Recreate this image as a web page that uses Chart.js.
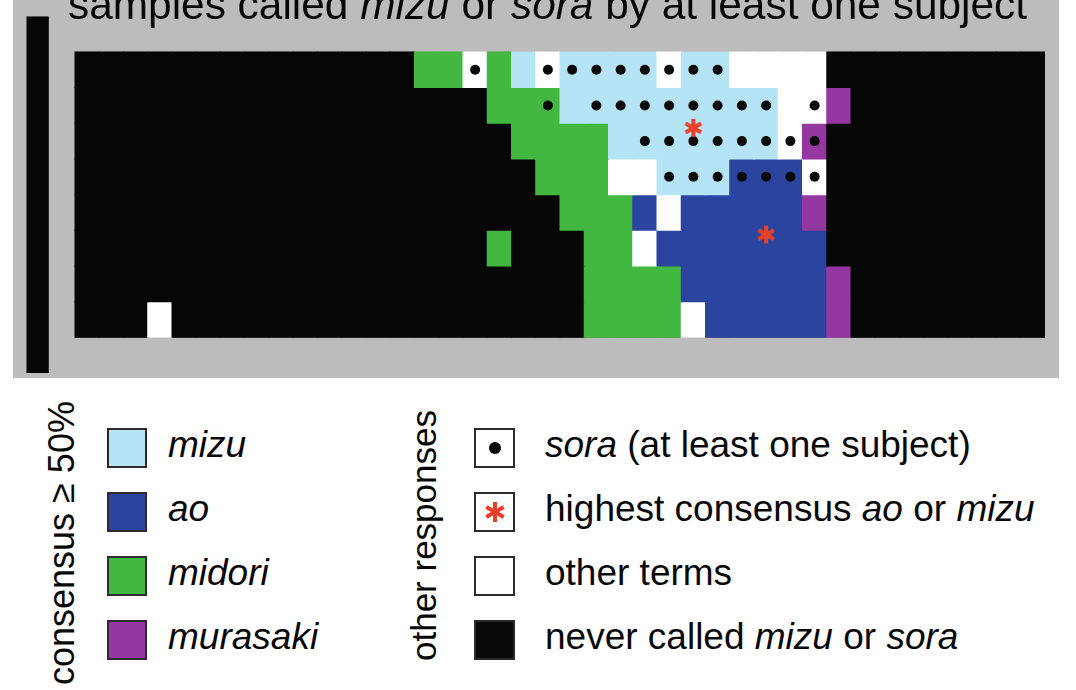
<!DOCTYPE html>
<html lang="en">
<head>
<meta charset="UTF-8">
<title>Samples called mizu or sora</title>
<style>
    body { margin: 0; background: #fff; font-family: Arial, "Liberation Sans", Helvetica, sans-serif; color: #080808; }
    #page { position: relative; width: 1076px; height: 690px; overflow: hidden; }
    #panel { position: absolute; left: 13px; top: 0; width: 1046px; height: 378px; background: #bbbcbb; }
    #title { position: absolute; left: 68px; top: -16px; font-size: 42.4px; line-height: 42px; white-space: nowrap; z-index: 2; }
    .vlabel { position: absolute; white-space: nowrap; transform-origin: left top; transform: rotate(-90deg); }
    .item { position: absolute; height: 40px; display: flex; align-items: center; white-space: nowrap; font-size: 37px; }
    .item span { position: relative; top: -3px; }
    .sw { flex: none; width: 40px; height: 40px; box-sizing: border-box; border: 2px solid #2b2b2b; background: #fff;
          display: flex; align-items: center; justify-content: center; }
    .left .sw { margin-right: 21px; }
    .right .sw { width: 41px; margin-right: 30px; }
    .dot { width: 12px; height: 12px; border-radius: 50%; background: #080808; }
</style>
<script src="https://cdn.jsdelivr.net/npm/chart.js"></script>
</head>
<body>
<div id="page">
    <div id="panel"><canvas id="grid"></canvas></div>
    <div id="title">samples called <i>mizu</i> or <i>sora</i> by at least one subject</div>

    <div class="vlabel" style="left:43.5px; top:685px; font-size:36px; line-height:36px;">consensus ≥ 50%</div>
    <div class="item left" style="left:107px; top:428px;"><div class="sw" style="background:#b5e4f6"></div><span><i>mizu</i></span></div>
    <div class="item left" style="left:107px; top:492px;"><div class="sw" style="background:#2a44a0"></div><span><i>ao</i></span></div>
    <div class="item left" style="left:107px; top:556px;"><div class="sw" style="background:#43b840"></div><span><i>midori</i></span></div>
    <div class="item left" style="left:107px; top:620px;"><div class="sw" style="background:#9537a0"></div><span><i>murasaki</i></span></div>

    <div class="vlabel" style="left:406px; top:661px; font-size:35px; line-height:35px;">other responses</div>
    <div class="item right" style="left:474px; top:428px;"><div class="sw"><div class="dot"></div></div><span><i>sora</i> (at least one subject)</span></div>
    <div class="item right" style="left:474px; top:492px;"><div class="sw">
        <svg width="22" height="22" viewBox="0 0 22 22"><g stroke="#e8402a" stroke-width="4">
            <line x1="11" y1="1" x2="11" y2="21"/><line x1="2.3" y1="6" x2="19.7" y2="16"/><line x1="2.3" y1="16" x2="19.7" y2="6"/>
        </g></svg></div><span>highest consensus <i>ao</i> or <i>mizu</i></span></div>
    <div class="item right" style="left:474px; top:556px;"><div class="sw"></div><span>other terms</span></div>
    <div class="item right" style="left:474px; top:620px;"><div class="sw" style="background:#080808"></div><span>never called <i>mizu</i> or <i>sora</i></span></div>
</div>

<script>
    // one string per value row (top = lightest), one letter per hue column
    // K never called, W other terms, M mizu, A ao, G midori, P murasaki
    const cellRows = [
        'KKKKKKKKKKKKKKGGWGMWMMMMWMMWWWWKKKKKKKKK',
        'KKKKKKKKKKKKKKKKKGGGMMMMMMMMMWWPKKKKKKKK',
        'KKKKKKKKKKKKKKKKKKGGGGMMMMMMMWPKKKKKKKKK',
        'KKKKKKKKKKKKKKKKKKKGGGWWMMMAAAWKKKKKKKKK',
        'KKKKKKKKKKKKKKKKKKKKGGGAWAAAAAPKKKKKKKKK',
        'KKKKKKKKKKKKKKKKKGKKKGGWAAAAAAAKKKKKKKKK',
        'KKKKKKKKKKKKKKKKKKKKKGGGGAAAAAAPKKKKKKKK',
        'KKKWKKKKKKKKKKKKKKKKKGGGGWAAAAAPKKKKKKKK'
    ];

    // columns where sora was given, per row
    const soraRow0 = [16, 19, 20, 21, 22, 23, 24, 25, 26];
    const soraRow1 = [19, 21, 22, 23, 24, 25, 26, 27, 28, 30];
    const soraRow2 = [23, 24, 25, 26, 27, 28, 29, 30];
    const soraRow3 = [24, 25, 26, 27, 28, 29, 30];

    // highest consensus ao / mizu
    const peakCols = [25, 28];
    const peakRows = [2.13, 5.12];

    // achromatic column
    const achromaticCol = -2.08;
    const achromaticRange = [-1, 9];

    const termColors = { K: '#060606', W: '#ffffff', M: '#b5e4f6', A: '#2a44a0', G: '#43b840', P: '#9537a0' };

    function makeAsterisk(size, color, width) {
        const c = document.createElement('canvas');
        c.width = size; c.height = size;
        const g = c.getContext('2d');
        g.strokeStyle = color;
        g.lineWidth = width;
        const m = size / 2, r = size / 2 - 1;
        for (let k = 0; k < 3; k++) {
            const a = Math.PI / 2 + k * Math.PI / 3;
            g.beginPath();
            g.moveTo(m + r * Math.cos(a), m + r * Math.sin(a));
            g.lineTo(m - r * Math.cos(a), m - r * Math.sin(a));
            g.stroke();
        }
        return c;
    }

    // black backing under the 40 x 8 cells so no hairline seams show between them
    const gridBacking = {
        id: 'gridBacking',
        beforeDatasetsDraw(chart) {
            const { ctx, scales: { x, y } } = chart;
            const x0 = x.getPixelForValue(-0.5), x1 = x.getPixelForValue(cellRows[0].length - 0.5);
            const y0 = y.getPixelForValue(0), y1 = y.getPixelForValue(cellRows.length);
            ctx.save();
            ctx.fillStyle = termColors.K;
            ctx.fillRect(x0, y0, x1 - x0, y1 - y0);
            ctx.restore();
        }
    };

    const barStyle = {
        type: 'bar',
        grouped: false,
        barPercentage: 1,
        categoryPercentage: 1,
        borderWidth: 0,
        inflateAmount: 0.5,
        order: 5
    };

    const cellDatasets = cellRows.map((codes, r) => ({
        ...barStyle,
        data: codes.split('').map((code, c) => ({ x: c, y: [r, r + 1] })),
        backgroundColor: codes.split('').map(code => termColors[code])
    }));

    const achromaticDataset = {
        ...barStyle,
        inflateAmount: 0,
        data: [{ x: achromaticCol, y: achromaticRange }],
        backgroundColor: termColors.K
    };

    const soraPoints = [];
    [soraRow0, soraRow1, soraRow2, soraRow3].forEach((cols, r) => {
        cols.forEach(c => soraPoints.push({ x: c, y: r + 0.5 }));
    });

    const soraDataset = {
        type: 'scatter',
        data: soraPoints,
        pointRadius: 5,
        pointBackgroundColor: '#080808',
        pointBorderWidth: 0,
        order: 1
    };

    const peakDataset = {
        type: 'scatter',
        data: peakCols.map((c, i) => ({ x: c, y: peakRows[i] })),
        pointStyle: makeAsterisk(20, '#e8402a', 4),
        order: 0
    };

    new Chart(document.getElementById('grid'), {
        type: 'bar',
        data: { datasets: [achromaticDataset, ...cellDatasets, soraDataset, peakDataset] },
        options: {
            responsive: true,
            maintainAspectRatio: false,
            animation: false,
            events: [],
            layout: { padding: { left: 13.5, right: 14, top: 16.25, bottom: 4.25 } },
            scales: {
                x: { type: 'linear', min: -2.5, max: 39.5, offset: false, display: false },
                y: { type: 'linear', reverse: true, min: -1, max: 9, display: false }
            },
            plugins: { legend: { display: false }, tooltip: { enabled: false } }
        },
        plugins: [gridBacking]
    });
</script>
</body>
</html>
